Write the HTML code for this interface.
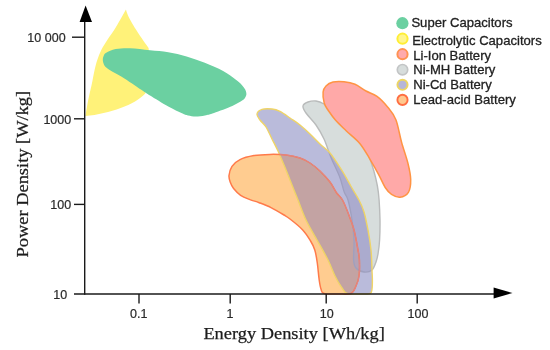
<!DOCTYPE html>
<html><head><meta charset="utf-8"><title>Ragone plot</title>
<style>
html,body{margin:0;padding:0;background:#fff;}
body{width:550px;height:350px;overflow:hidden;position:relative;font-family:"Liberation Sans",Arial,sans-serif;color:#2a2a2a;}
svg{position:absolute;left:0;top:0;}
.t{font-family:"Liberation Sans",Arial,sans-serif;font-size:12.5px;fill:#2a2a2a;stroke:#2a2a2a;stroke-width:0.2px;}
.lg{font-family:"Liberation Sans",Arial,sans-serif;font-size:13.1px;fill:#222;stroke:#222;stroke-width:0.3px;}
.ax{font-family:"Liberation Serif","Times New Roman",serif;font-size:17.5px;fill:#1c1c1c;stroke:#1c1c1c;stroke-width:0.25px;}
</style></head><body>
<svg width="550" height="350" viewBox="0 0 550 350">
<defs>
<clipPath id="cLead"><path d="M229.0,175.5C229.3,172.8 230.2,169.0 232.0,166.3C233.8,163.7 236.3,161.4 240.0,159.6C243.7,157.8 249.0,156.5 254.0,155.6C259.0,154.7 264.7,154.5 270.0,154.4C275.3,154.3 281.0,154.4 286.0,155.0C291.0,155.6 296.0,156.7 300.0,158.0C304.0,159.3 306.7,160.8 310.0,163.0C313.3,165.2 316.7,167.8 320.0,171.0C323.3,174.2 327.2,178.4 330.0,182.0C332.8,185.6 334.4,189.7 336.5,192.7C338.6,195.7 340.5,196.4 342.5,200.0C344.5,203.6 346.6,209.0 348.5,214.0C350.4,219.0 352.4,224.0 354.0,230.0C355.6,236.0 357.1,245.0 358.0,250.0C358.9,255.0 359.2,255.7 359.4,260.0C359.6,264.3 359.6,271.7 359.0,276.0C358.4,280.3 357.3,283.1 356.0,286.0C354.7,288.9 354.0,292.2 351.0,293.5C348.0,294.8 342.5,294.0 338.0,294.0C333.5,294.0 326.8,294.3 324.0,293.5C321.2,292.7 321.8,291.2 321.0,289.0C320.2,286.8 319.8,284.3 319.2,280.0C318.6,275.7 318.0,268.0 317.3,263.0C316.6,258.0 316.0,253.8 314.8,250.0C313.6,246.2 312.4,243.9 310.3,240.5C308.2,237.1 305.9,233.3 302.5,229.7C299.1,226.1 293.1,221.4 290.0,219.0C286.9,216.6 287.2,216.9 284.0,215.0C280.8,213.1 275.1,209.7 271.0,207.6C266.9,205.5 262.7,204.0 259.2,202.7C255.7,201.4 253.0,200.8 249.9,199.6C246.8,198.4 243.3,197.2 240.6,195.3C237.9,193.5 235.3,190.6 233.6,188.5C231.9,186.4 231.2,184.7 230.4,182.5C229.6,180.3 228.7,178.2 229.0,175.5Z"/></clipPath>
<clipPath id="cNimh"><path d="M303.0,106.0C303.3,104.2 305.8,102.8 308.0,102.0C310.2,101.2 313.3,100.7 316.0,101.0C318.7,101.3 321.0,102.2 324.0,104.0C327.0,105.8 330.0,108.3 334.0,112.0C338.0,115.7 343.5,121.3 348.0,126.0C352.5,130.7 357.6,135.2 361.0,140.0C364.4,144.8 366.4,149.9 368.5,155.0C370.6,160.1 372.3,165.5 373.8,170.7C375.3,175.9 376.5,181.1 377.4,186.0C378.3,190.9 378.7,194.3 379.1,200.0C379.5,205.7 379.9,213.3 380.0,220.0C380.1,226.7 379.9,234.3 379.6,240.0C379.3,245.7 378.6,250.3 378.0,254.0C377.4,257.7 377.0,259.3 376.0,262.0C375.0,264.7 374.0,268.3 372.0,270.0C370.0,271.7 366.7,272.3 364.0,272.0C361.3,271.7 357.7,270.0 356.0,268.0C354.3,266.0 353.9,264.7 353.6,260.0C353.3,255.3 354.3,246.7 354.0,240.0C353.7,233.3 353.0,226.7 352.0,220.0C351.0,213.3 349.3,204.7 348.0,200.0C346.7,195.3 345.6,195.8 344.2,192.0C342.8,188.2 342.0,183.1 339.8,177.3C337.6,171.5 333.6,163.8 331.0,157.4C328.4,151.0 326.5,144.4 324.0,139.0C321.5,133.6 319.0,129.3 316.0,125.0C313.0,120.7 308.2,116.2 306.0,113.0C303.8,109.8 302.7,107.8 303.0,106.0Z"/></clipPath>
<clipPath id="cNicd"><path d="M257.0,114.0C257.3,112.2 259.5,110.2 262.0,109.4C264.5,108.6 269.0,108.7 272.0,109.0C275.0,109.3 277.0,109.9 280.0,111.4C283.0,112.9 286.7,115.7 290.0,118.0C293.3,120.3 296.7,122.3 300.0,125.0C303.3,127.7 306.7,130.8 310.0,134.0C313.3,137.2 316.7,140.8 320.0,144.0C323.3,147.2 326.3,148.6 330.0,153.0C333.7,157.4 338.5,165.2 342.0,170.7C345.5,176.2 348.0,181.1 350.8,186.0C353.6,190.9 356.8,195.7 359.0,200.0C361.2,204.3 362.5,207.0 364.0,212.0C365.5,217.0 366.8,223.7 368.0,230.0C369.2,236.3 370.3,243.3 371.0,250.0C371.7,256.7 371.8,265.0 372.0,270.0C372.2,275.0 372.4,276.8 372.4,280.0C372.4,283.2 372.4,286.8 372.0,289.0C371.6,291.2 372.3,292.7 370.0,293.5C367.7,294.3 361.8,294.0 358.0,294.0C354.2,294.0 349.7,294.5 347.0,293.5C344.3,292.5 344.0,290.9 342.0,288.0C340.0,285.1 337.3,280.7 335.0,276.0C332.7,271.3 331.0,266.0 328.0,260.0C325.0,254.0 320.7,246.7 317.0,240.0C313.3,233.3 309.2,226.7 306.0,220.0C302.8,213.3 300.7,206.7 298.0,200.0C295.3,193.3 292.3,185.8 290.0,180.0C287.7,174.2 286.0,169.8 284.0,165.0C282.0,160.2 280.0,155.3 278.0,151.0C276.0,146.7 274.0,143.0 272.0,139.0C270.0,135.0 268.0,130.2 266.0,127.0C264.0,123.8 261.5,122.2 260.0,120.0C258.5,117.8 256.7,115.8 257.0,114.0Z"/></clipPath>
</defs>
<rect width="550" height="350" fill="#ffffff"/>
<!-- shapes -->
<path d="M126,9.5 C127.5,18 140,36 148.6,47.9 L150,70 L145.3,93.4 C135,104.5 110,113.6 85.4,116C85.9,113.3 87.2,105.2 88.2,100.0C89.2,94.8 90.5,90.0 91.6,85.0C92.7,80.0 93.6,74.2 94.6,70.0C95.5,65.8 96.2,63.3 97.3,60.0C98.4,56.7 99.6,53.3 101.3,50.0C103.0,46.7 104.8,43.8 107.3,40.0C109.8,36.2 112.9,32.1 116.0,27.0C119.1,21.9 124.3,12.4 126.0,9.5Z" fill="#fff279"/>
<path d="M102.8,60.3C102.7,58.8 103.0,57.3 103.6,56.0C104.2,54.7 104.2,53.9 106.2,52.7C108.2,51.6 111.7,49.9 115.7,49.1C119.7,48.4 124.3,48.0 130.0,48.2C135.7,48.4 143.6,49.6 150.0,50.3C156.4,51.0 162.2,51.2 168.3,52.2C174.4,53.2 180.5,54.6 186.6,56.4C192.7,58.2 198.7,60.4 204.8,62.8C210.9,65.2 217.9,68.2 223.1,71.0C228.3,73.8 232.8,77.5 235.9,79.8C239.0,82.1 240.1,83.2 241.6,84.8C243.1,86.4 244.4,88.0 245.2,89.5C246.0,91.0 246.4,92.7 246.4,94.0C246.4,95.3 245.8,96.5 245.2,97.5C244.5,98.5 244.7,98.9 242.5,100.3C240.3,101.7 237.1,103.9 232.3,106.0C227.6,108.1 218.6,111.3 214.0,112.9C209.4,114.5 208.1,114.8 205.0,115.4C201.9,116.0 198.5,116.6 195.7,116.6C192.9,116.6 190.3,116.1 188.0,115.6C185.7,115.0 185.3,114.8 182.0,113.3C178.7,111.8 173.6,109.5 168.3,106.5C163.0,103.5 154.2,98.1 150.0,95.5C145.8,92.9 147.3,93.8 143.1,91.0C138.9,88.2 129.8,81.9 124.8,78.7C119.8,75.5 116.0,73.8 113.0,72.0C110.0,70.2 108.1,69.0 106.6,67.8C105.1,66.6 104.6,66.0 104.0,64.8C103.4,63.5 102.9,61.8 102.8,60.3Z" fill="#6bd0a1"/>
<path d="M303.0,106.0C303.3,104.2 305.8,102.8 308.0,102.0C310.2,101.2 313.3,100.7 316.0,101.0C318.7,101.3 321.0,102.2 324.0,104.0C327.0,105.8 330.0,108.3 334.0,112.0C338.0,115.7 343.5,121.3 348.0,126.0C352.5,130.7 357.6,135.2 361.0,140.0C364.4,144.8 366.4,149.9 368.5,155.0C370.6,160.1 372.3,165.5 373.8,170.7C375.3,175.9 376.5,181.1 377.4,186.0C378.3,190.9 378.7,194.3 379.1,200.0C379.5,205.7 379.9,213.3 380.0,220.0C380.1,226.7 379.9,234.3 379.6,240.0C379.3,245.7 378.6,250.3 378.0,254.0C377.4,257.7 377.0,259.3 376.0,262.0C375.0,264.7 374.0,268.3 372.0,270.0C370.0,271.7 366.7,272.3 364.0,272.0C361.3,271.7 357.7,270.0 356.0,268.0C354.3,266.0 353.9,264.7 353.6,260.0C353.3,255.3 354.3,246.7 354.0,240.0C353.7,233.3 353.0,226.7 352.0,220.0C351.0,213.3 349.3,204.7 348.0,200.0C346.7,195.3 345.6,195.8 344.2,192.0C342.8,188.2 342.0,183.1 339.8,177.3C337.6,171.5 333.6,163.8 331.0,157.4C328.4,151.0 326.5,144.4 324.0,139.0C321.5,133.6 319.0,129.3 316.0,125.0C313.0,120.7 308.2,116.2 306.0,113.0C303.8,109.8 302.7,107.8 303.0,106.0Z" fill="#d7dddc" stroke="#b9bbbb" stroke-width="1.4"/>
<path d="M323.1,92.0C323.4,89.2 324.4,87.7 326.0,86.0C327.6,84.3 330.0,82.8 333.0,82.1C336.0,81.4 340.3,81.4 344.0,81.8C347.7,82.2 351.3,82.8 355.0,84.3C358.7,85.8 362.3,89.0 366.0,91.0C369.7,93.0 373.3,93.7 377.0,96.4C380.7,99.1 384.8,103.5 388.0,107.4C391.2,111.3 393.8,114.2 396.0,120.0C398.2,125.8 399.5,134.7 401.5,142.0C403.5,149.3 406.6,157.8 408.1,164.0C409.6,170.2 410.6,174.8 410.7,179.5C410.8,184.2 410.2,189.4 408.4,192.3C406.6,195.2 402.8,196.9 400.0,197.2C397.2,197.5 394.0,195.9 391.5,194.3C389.0,192.7 387.3,190.8 385.2,187.5C383.1,184.2 381.3,179.5 378.8,174.8C376.3,170.1 373.1,164.5 370.0,159.3C366.9,154.1 363.9,148.4 360.0,143.7C356.1,139.0 350.5,134.9 346.4,131.0C342.3,127.0 338.5,123.5 335.4,120.0C332.3,116.5 329.9,112.8 328.0,110.0C326.1,107.2 325.0,106.0 324.2,103.0C323.4,100.0 322.8,94.8 323.1,92.0Z" fill="#ffa9a8" stroke="#ff9444" stroke-width="1.5"/>
<path d="M229.0,175.5C229.3,172.8 230.2,169.0 232.0,166.3C233.8,163.7 236.3,161.4 240.0,159.6C243.7,157.8 249.0,156.5 254.0,155.6C259.0,154.7 264.7,154.5 270.0,154.4C275.3,154.3 281.0,154.4 286.0,155.0C291.0,155.6 296.0,156.7 300.0,158.0C304.0,159.3 306.7,160.8 310.0,163.0C313.3,165.2 316.7,167.8 320.0,171.0C323.3,174.2 327.2,178.4 330.0,182.0C332.8,185.6 334.4,189.7 336.5,192.7C338.6,195.7 340.5,196.4 342.5,200.0C344.5,203.6 346.6,209.0 348.5,214.0C350.4,219.0 352.4,224.0 354.0,230.0C355.6,236.0 357.1,245.0 358.0,250.0C358.9,255.0 359.2,255.7 359.4,260.0C359.6,264.3 359.6,271.7 359.0,276.0C358.4,280.3 357.3,283.1 356.0,286.0C354.7,288.9 354.0,292.2 351.0,293.5C348.0,294.8 342.5,294.0 338.0,294.0C333.5,294.0 326.8,294.3 324.0,293.5C321.2,292.7 321.8,291.2 321.0,289.0C320.2,286.8 319.8,284.3 319.2,280.0C318.6,275.7 318.0,268.0 317.3,263.0C316.6,258.0 316.0,253.8 314.8,250.0C313.6,246.2 312.4,243.9 310.3,240.5C308.2,237.1 305.9,233.3 302.5,229.7C299.1,226.1 293.1,221.4 290.0,219.0C286.9,216.6 287.2,216.9 284.0,215.0C280.8,213.1 275.1,209.7 271.0,207.6C266.9,205.5 262.7,204.0 259.2,202.7C255.7,201.4 253.0,200.8 249.9,199.6C246.8,198.4 243.3,197.2 240.6,195.3C237.9,193.5 235.3,190.6 233.6,188.5C231.9,186.4 231.2,184.7 230.4,182.5C229.6,180.3 228.7,178.2 229.0,175.5Z" fill="#ffcc90"/>
<path d="M257.0,114.0C257.3,112.2 259.5,110.2 262.0,109.4C264.5,108.6 269.0,108.7 272.0,109.0C275.0,109.3 277.0,109.9 280.0,111.4C283.0,112.9 286.7,115.7 290.0,118.0C293.3,120.3 296.7,122.3 300.0,125.0C303.3,127.7 306.7,130.8 310.0,134.0C313.3,137.2 316.7,140.8 320.0,144.0C323.3,147.2 326.3,148.6 330.0,153.0C333.7,157.4 338.5,165.2 342.0,170.7C345.5,176.2 348.0,181.1 350.8,186.0C353.6,190.9 356.8,195.7 359.0,200.0C361.2,204.3 362.5,207.0 364.0,212.0C365.5,217.0 366.8,223.7 368.0,230.0C369.2,236.3 370.3,243.3 371.0,250.0C371.7,256.7 371.8,265.0 372.0,270.0C372.2,275.0 372.4,276.8 372.4,280.0C372.4,283.2 372.4,286.8 372.0,289.0C371.6,291.2 372.3,292.7 370.0,293.5C367.7,294.3 361.8,294.0 358.0,294.0C354.2,294.0 349.7,294.5 347.0,293.5C344.3,292.5 344.0,290.9 342.0,288.0C340.0,285.1 337.3,280.7 335.0,276.0C332.7,271.3 331.0,266.0 328.0,260.0C325.0,254.0 320.7,246.7 317.0,240.0C313.3,233.3 309.2,226.7 306.0,220.0C302.8,213.3 300.7,206.7 298.0,200.0C295.3,193.3 292.3,185.8 290.0,180.0C287.7,174.2 286.0,169.8 284.0,165.0C282.0,160.2 280.0,155.3 278.0,151.0C276.0,146.7 274.0,143.0 272.0,139.0C270.0,135.0 268.0,130.2 266.0,127.0C264.0,123.8 261.5,122.2 260.0,120.0C258.5,117.8 256.7,115.8 257.0,114.0Z" fill="#babbdb"/>
<g clip-path="url(#cNicd)"><path d="M303.0,106.0C303.3,104.2 305.8,102.8 308.0,102.0C310.2,101.2 313.3,100.7 316.0,101.0C318.7,101.3 321.0,102.2 324.0,104.0C327.0,105.8 330.0,108.3 334.0,112.0C338.0,115.7 343.5,121.3 348.0,126.0C352.5,130.7 357.6,135.2 361.0,140.0C364.4,144.8 366.4,149.9 368.5,155.0C370.6,160.1 372.3,165.5 373.8,170.7C375.3,175.9 376.5,181.1 377.4,186.0C378.3,190.9 378.7,194.3 379.1,200.0C379.5,205.7 379.9,213.3 380.0,220.0C380.1,226.7 379.9,234.3 379.6,240.0C379.3,245.7 378.6,250.3 378.0,254.0C377.4,257.7 377.0,259.3 376.0,262.0C375.0,264.7 374.0,268.3 372.0,270.0C370.0,271.7 366.7,272.3 364.0,272.0C361.3,271.7 357.7,270.0 356.0,268.0C354.3,266.0 353.9,264.7 353.6,260.0C353.3,255.3 354.3,246.7 354.0,240.0C353.7,233.3 353.0,226.7 352.0,220.0C351.0,213.3 349.3,204.7 348.0,200.0C346.7,195.3 345.6,195.8 344.2,192.0C342.8,188.2 342.0,183.1 339.8,177.3C337.6,171.5 333.6,163.8 331.0,157.4C328.4,151.0 326.5,144.4 324.0,139.0C321.5,133.6 319.0,129.3 316.0,125.0C313.0,120.7 308.2,116.2 306.0,113.0C303.8,109.8 302.7,107.8 303.0,106.0Z" fill="#ababce"/></g>
<g clip-path="url(#cNicd)"><path d="M229.0,175.5C229.3,172.8 230.2,169.0 232.0,166.3C233.8,163.7 236.3,161.4 240.0,159.6C243.7,157.8 249.0,156.5 254.0,155.6C259.0,154.7 264.7,154.5 270.0,154.4C275.3,154.3 281.0,154.4 286.0,155.0C291.0,155.6 296.0,156.7 300.0,158.0C304.0,159.3 306.7,160.8 310.0,163.0C313.3,165.2 316.7,167.8 320.0,171.0C323.3,174.2 327.2,178.4 330.0,182.0C332.8,185.6 334.4,189.7 336.5,192.7C338.6,195.7 340.5,196.4 342.5,200.0C344.5,203.6 346.6,209.0 348.5,214.0C350.4,219.0 352.4,224.0 354.0,230.0C355.6,236.0 357.1,245.0 358.0,250.0C358.9,255.0 359.2,255.7 359.4,260.0C359.6,264.3 359.6,271.7 359.0,276.0C358.4,280.3 357.3,283.1 356.0,286.0C354.7,288.9 354.0,292.2 351.0,293.5C348.0,294.8 342.5,294.0 338.0,294.0C333.5,294.0 326.8,294.3 324.0,293.5C321.2,292.7 321.8,291.2 321.0,289.0C320.2,286.8 319.8,284.3 319.2,280.0C318.6,275.7 318.0,268.0 317.3,263.0C316.6,258.0 316.0,253.8 314.8,250.0C313.6,246.2 312.4,243.9 310.3,240.5C308.2,237.1 305.9,233.3 302.5,229.7C299.1,226.1 293.1,221.4 290.0,219.0C286.9,216.6 287.2,216.9 284.0,215.0C280.8,213.1 275.1,209.7 271.0,207.6C266.9,205.5 262.7,204.0 259.2,202.7C255.7,201.4 253.0,200.8 249.9,199.6C246.8,198.4 243.3,197.2 240.6,195.3C237.9,193.5 235.3,190.6 233.6,188.5C231.9,186.4 231.2,184.7 230.4,182.5C229.6,180.3 228.7,178.2 229.0,175.5Z" fill="#c3a3a3"/></g>
<g clip-path="url(#cNicd)"><g clip-path="url(#cNimh)"><path d="M229.0,175.5C229.3,172.8 230.2,169.0 232.0,166.3C233.8,163.7 236.3,161.4 240.0,159.6C243.7,157.8 249.0,156.5 254.0,155.6C259.0,154.7 264.7,154.5 270.0,154.4C275.3,154.3 281.0,154.4 286.0,155.0C291.0,155.6 296.0,156.7 300.0,158.0C304.0,159.3 306.7,160.8 310.0,163.0C313.3,165.2 316.7,167.8 320.0,171.0C323.3,174.2 327.2,178.4 330.0,182.0C332.8,185.6 334.4,189.7 336.5,192.7C338.6,195.7 340.5,196.4 342.5,200.0C344.5,203.6 346.6,209.0 348.5,214.0C350.4,219.0 352.4,224.0 354.0,230.0C355.6,236.0 357.1,245.0 358.0,250.0C358.9,255.0 359.2,255.7 359.4,260.0C359.6,264.3 359.6,271.7 359.0,276.0C358.4,280.3 357.3,283.1 356.0,286.0C354.7,288.9 354.0,292.2 351.0,293.5C348.0,294.8 342.5,294.0 338.0,294.0C333.5,294.0 326.8,294.3 324.0,293.5C321.2,292.7 321.8,291.2 321.0,289.0C320.2,286.8 319.8,284.3 319.2,280.0C318.6,275.7 318.0,268.0 317.3,263.0C316.6,258.0 316.0,253.8 314.8,250.0C313.6,246.2 312.4,243.9 310.3,240.5C308.2,237.1 305.9,233.3 302.5,229.7C299.1,226.1 293.1,221.4 290.0,219.0C286.9,216.6 287.2,216.9 284.0,215.0C280.8,213.1 275.1,209.7 271.0,207.6C266.9,205.5 262.7,204.0 259.2,202.7C255.7,201.4 253.0,200.8 249.9,199.6C246.8,198.4 243.3,197.2 240.6,195.3C237.9,193.5 235.3,190.6 233.6,188.5C231.9,186.4 231.2,184.7 230.4,182.5C229.6,180.3 228.7,178.2 229.0,175.5Z" fill="#b3a2b6"/></g></g>
<g clip-path="url(#cNicd)"><path d="M303.0,106.0C303.3,104.2 305.8,102.8 308.0,102.0C310.2,101.2 313.3,100.7 316.0,101.0C318.7,101.3 321.0,102.2 324.0,104.0C327.0,105.8 330.0,108.3 334.0,112.0C338.0,115.7 343.5,121.3 348.0,126.0C352.5,130.7 357.6,135.2 361.0,140.0C364.4,144.8 366.4,149.9 368.5,155.0C370.6,160.1 372.3,165.5 373.8,170.7C375.3,175.9 376.5,181.1 377.4,186.0C378.3,190.9 378.7,194.3 379.1,200.0C379.5,205.7 379.9,213.3 380.0,220.0C380.1,226.7 379.9,234.3 379.6,240.0C379.3,245.7 378.6,250.3 378.0,254.0C377.4,257.7 377.0,259.3 376.0,262.0C375.0,264.7 374.0,268.3 372.0,270.0C370.0,271.7 366.7,272.3 364.0,272.0C361.3,271.7 357.7,270.0 356.0,268.0C354.3,266.0 353.9,264.7 353.6,260.0C353.3,255.3 354.3,246.7 354.0,240.0C353.7,233.3 353.0,226.7 352.0,220.0C351.0,213.3 349.3,204.7 348.0,200.0C346.7,195.3 345.6,195.8 344.2,192.0C342.8,188.2 342.0,183.1 339.8,177.3C337.6,171.5 333.6,163.8 331.0,157.4C328.4,151.0 326.5,144.4 324.0,139.0C321.5,133.6 319.0,129.3 316.0,125.0C313.0,120.7 308.2,116.2 306.0,113.0C303.8,109.8 302.7,107.8 303.0,106.0Z" fill="none" stroke="#9fa0bf" stroke-width="1.3"/></g>
<path d="M257.0,114.0C257.3,112.2 259.5,110.2 262.0,109.4C264.5,108.6 269.0,108.7 272.0,109.0C275.0,109.3 277.0,109.9 280.0,111.4C283.0,112.9 286.7,115.7 290.0,118.0C293.3,120.3 296.7,122.3 300.0,125.0C303.3,127.7 306.7,130.8 310.0,134.0C313.3,137.2 316.7,140.8 320.0,144.0C323.3,147.2 326.3,148.6 330.0,153.0C333.7,157.4 338.5,165.2 342.0,170.7C345.5,176.2 348.0,181.1 350.8,186.0C353.6,190.9 356.8,195.7 359.0,200.0C361.2,204.3 362.5,207.0 364.0,212.0C365.5,217.0 366.8,223.7 368.0,230.0C369.2,236.3 370.3,243.3 371.0,250.0C371.7,256.7 371.8,265.0 372.0,270.0C372.2,275.0 372.4,276.8 372.4,280.0C372.4,283.2 372.4,286.8 372.0,289.0C371.6,291.2 372.3,292.7 370.0,293.5C367.7,294.3 361.8,294.0 358.0,294.0C354.2,294.0 349.7,294.5 347.0,293.5C344.3,292.5 344.0,290.9 342.0,288.0C340.0,285.1 337.3,280.7 335.0,276.0C332.7,271.3 331.0,266.0 328.0,260.0C325.0,254.0 320.7,246.7 317.0,240.0C313.3,233.3 309.2,226.7 306.0,220.0C302.8,213.3 300.7,206.7 298.0,200.0C295.3,193.3 292.3,185.8 290.0,180.0C287.7,174.2 286.0,169.8 284.0,165.0C282.0,160.2 280.0,155.3 278.0,151.0C276.0,146.7 274.0,143.0 272.0,139.0C270.0,135.0 268.0,130.2 266.0,127.0C264.0,123.8 261.5,122.2 260.0,120.0C258.5,117.8 256.7,115.8 257.0,114.0Z" fill="none" stroke="#efd467" stroke-width="1.4"/>
<path d="M229.0,175.5C229.3,172.8 230.2,169.0 232.0,166.3C233.8,163.7 236.3,161.4 240.0,159.6C243.7,157.8 249.0,156.5 254.0,155.6C259.0,154.7 264.7,154.5 270.0,154.4C275.3,154.3 281.0,154.4 286.0,155.0C291.0,155.6 296.0,156.7 300.0,158.0C304.0,159.3 306.7,160.8 310.0,163.0C313.3,165.2 316.7,167.8 320.0,171.0C323.3,174.2 327.2,178.4 330.0,182.0C332.8,185.6 334.4,189.7 336.5,192.7C338.6,195.7 340.5,196.4 342.5,200.0C344.5,203.6 346.6,209.0 348.5,214.0C350.4,219.0 352.4,224.0 354.0,230.0C355.6,236.0 357.1,245.0 358.0,250.0C358.9,255.0 359.2,255.7 359.4,260.0C359.6,264.3 359.6,271.7 359.0,276.0C358.4,280.3 357.3,283.1 356.0,286.0C354.7,288.9 354.0,292.2 351.0,293.5C348.0,294.8 342.5,294.0 338.0,294.0C333.5,294.0 326.8,294.3 324.0,293.5C321.2,292.7 321.8,291.2 321.0,289.0C320.2,286.8 319.8,284.3 319.2,280.0C318.6,275.7 318.0,268.0 317.3,263.0C316.6,258.0 316.0,253.8 314.8,250.0C313.6,246.2 312.4,243.9 310.3,240.5C308.2,237.1 305.9,233.3 302.5,229.7C299.1,226.1 293.1,221.4 290.0,219.0C286.9,216.6 287.2,216.9 284.0,215.0C280.8,213.1 275.1,209.7 271.0,207.6C266.9,205.5 262.7,204.0 259.2,202.7C255.7,201.4 253.0,200.8 249.9,199.6C246.8,198.4 243.3,197.2 240.6,195.3C237.9,193.5 235.3,190.6 233.6,188.5C231.9,186.4 231.2,184.7 230.4,182.5C229.6,180.3 228.7,178.2 229.0,175.5Z" fill="none" stroke="#ff7a4a" stroke-width="1.5"/>
<g clip-path="url(#cNicd)"><path d="M229.0,175.5C229.3,172.8 230.2,169.0 232.0,166.3C233.8,163.7 236.3,161.4 240.0,159.6C243.7,157.8 249.0,156.5 254.0,155.6C259.0,154.7 264.7,154.5 270.0,154.4C275.3,154.3 281.0,154.4 286.0,155.0C291.0,155.6 296.0,156.7 300.0,158.0C304.0,159.3 306.7,160.8 310.0,163.0C313.3,165.2 316.7,167.8 320.0,171.0C323.3,174.2 327.2,178.4 330.0,182.0C332.8,185.6 334.4,189.7 336.5,192.7C338.6,195.7 340.5,196.4 342.5,200.0C344.5,203.6 346.6,209.0 348.5,214.0C350.4,219.0 352.4,224.0 354.0,230.0C355.6,236.0 357.1,245.0 358.0,250.0C358.9,255.0 359.2,255.7 359.4,260.0C359.6,264.3 359.6,271.7 359.0,276.0C358.4,280.3 357.3,283.1 356.0,286.0C354.7,288.9 354.0,292.2 351.0,293.5C348.0,294.8 342.5,294.0 338.0,294.0C333.5,294.0 326.8,294.3 324.0,293.5C321.2,292.7 321.8,291.2 321.0,289.0C320.2,286.8 319.8,284.3 319.2,280.0C318.6,275.7 318.0,268.0 317.3,263.0C316.6,258.0 316.0,253.8 314.8,250.0C313.6,246.2 312.4,243.9 310.3,240.5C308.2,237.1 305.9,233.3 302.5,229.7C299.1,226.1 293.1,221.4 290.0,219.0C286.9,216.6 287.2,216.9 284.0,215.0C280.8,213.1 275.1,209.7 271.0,207.6C266.9,205.5 262.7,204.0 259.2,202.7C255.7,201.4 253.0,200.8 249.9,199.6C246.8,198.4 243.3,197.2 240.6,195.3C237.9,193.5 235.3,190.6 233.6,188.5C231.9,186.4 231.2,184.7 230.4,182.5C229.6,180.3 228.7,178.2 229.0,175.5Z" fill="none" stroke="#d9868f" stroke-width="1"/></g>
<!-- axes -->
<g stroke="#1a1a1a" stroke-width="1.4" fill="none">
<line x1="84.7" y1="20" x2="84.7" y2="294.7"/>
<line x1="74" y1="294" x2="496" y2="294"/>
<line x1="72" y1="37.2" x2="85" y2="37.2"/>
<line x1="74" y1="118.8" x2="85" y2="118.8"/>
<line x1="74" y1="204.4" x2="85" y2="204.4"/>
<line x1="139" y1="294" x2="139" y2="303.4"/>
<line x1="230.2" y1="294" x2="230.2" y2="303.4"/>
<line x1="326.2" y1="294" x2="326.2" y2="303.4"/>
<line x1="417.2" y1="294" x2="417.2" y2="303.4"/>
</g>
<polygon points="85.6,5.6 79.6,22 92,22" fill="#000"/>
<polygon points="512.5,293 493.6,287.5 493.6,298.6" fill="#000"/>
<!-- tick labels -->
<text class="t" x="27.2" y="42.1" textLength="38.6" lengthAdjust="spacing">10 000</text>
<text class="t" x="71.2" y="123.9" text-anchor="end">1000</text>
<text class="t" x="71.2" y="209.4" text-anchor="end">100</text>
<text class="t" x="67.2" y="299.4" text-anchor="end">10</text>
<text class="t" x="138.8" y="318.4" text-anchor="middle">0.1</text>
<text class="t" x="230" y="318.4" text-anchor="middle">1</text>
<text class="t" x="326.8" y="318.4" text-anchor="middle">10</text>
<text class="t" x="418" y="318.4" text-anchor="middle">100</text>
<!-- axis titles -->
<text class="ax" x="203.4" y="338.5" textLength="181.4" lengthAdjust="spacingAndGlyphs">Energy Density [Wh/kg]</text>
<text class="ax" transform="translate(28.1,257.4) rotate(-90)" textLength="166.6" lengthAdjust="spacingAndGlyphs">Power Density [W/kg]</text>
<!-- legend -->
<circle cx="402.4" cy="23.2" r="6.1" fill="#6bd0a1"/>
<circle cx="402.5" cy="38.7" r="5.1" fill="#fff58c" stroke="#ffee35" stroke-width="2"/>
<circle cx="402.5" cy="54.2" r="5.1" fill="#ffa9ac" stroke="#ff9252" stroke-width="2"/>
<circle cx="402.5" cy="69.7" r="5.2" fill="#d7dddc" stroke="#c3c5c6" stroke-width="1.7"/>
<circle cx="402.5" cy="84.8" r="5.1" fill="#b6b6d8" stroke="#edd562" stroke-width="1.9"/>
<circle cx="402.5" cy="99.9" r="5.1" fill="#ffc88e" stroke="#ff6e42" stroke-width="1.9"/>
<text class="lg" x="411.4" y="26.8">Super Capacitors</text>
<text class="lg" x="412.2" y="44.5">Electrolytic Capacitors</text>
<text class="lg" x="413.2" y="60.4">Li-Ion Battery</text>
<text class="lg" x="413.2" y="74.3">Ni-MH Battery</text>
<text class="lg" x="413.2" y="88.6">Ni-Cd Battery</text>
<text class="lg" x="413.2" y="104">Lead-acid Battery</text>
</svg>
</body></html>
